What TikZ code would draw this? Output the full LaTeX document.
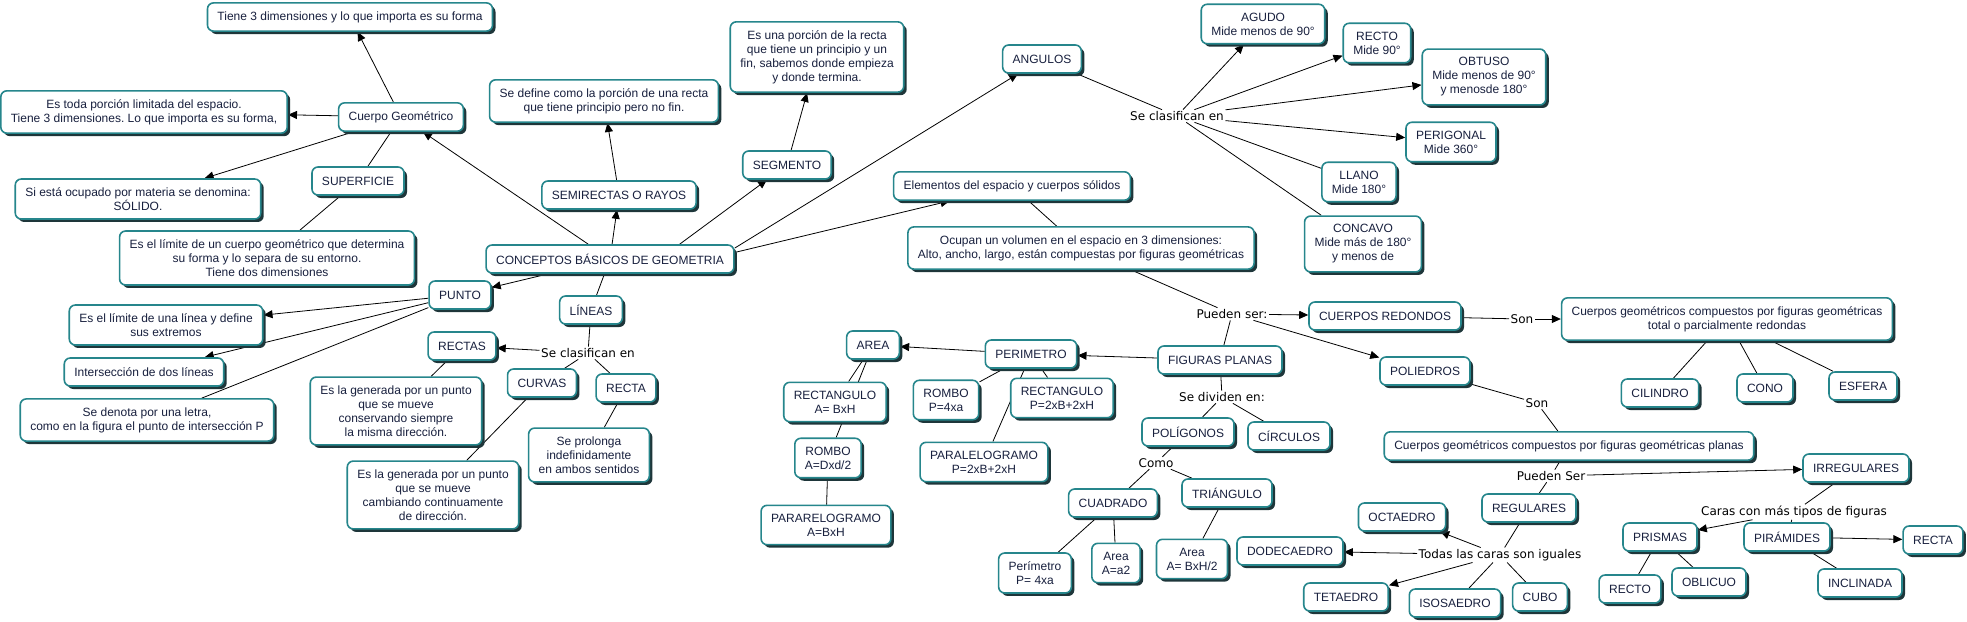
\documentclass[tikz,border=0pt]{standalone}
\usepackage{fontspec}
\setmainfont{Liberation Sans}
\newfontfamily\linkfont{DejaVu Sans}
\usetikzlibrary{arrows.meta}
\usetikzlibrary{shadows}
\usetikzlibrary{backgrounds}
\definecolor{Teal}{RGB}{38,134,140}
\definecolor{Shade}{RGB}{30,54,58}
\definecolor{Ink}{RGB}{24,32,62}
\frenchspacing

\tikzset{
  concept/.style={draw=Teal, line width=1.6pt, fill=white, rounded corners=6pt,
    align=center, inner xsep=10pt, inner ysep=8.5pt, minimum height=28pt,
    text=Ink, font=\fontsize{12}{14}\selectfont,
    drop shadow={shadow xshift=3pt, shadow yshift=-3pt, fill=Shade, opacity=1}},
  link/.style={inner sep=1.5pt, font=\linkfont\fontsize{12}{14}\selectfont},
  conn/.style={line width=0.8pt, black},
}

\begin{document}
\begin{tikzpicture}[x=1pt, y=-1pt, >={Triangle[length=9pt,width=8pt]}]
  \useasboundingbox (0,0) rectangle (1967,621);

  % left part
  \node[concept] at (350,17) (tres) {Tiene 3 dimensiones y lo que importa es su forma};
  \node[concept] at (144,112) (toda) {Es toda porción limitada del espacio.\\Tiene 3 dimensiones. Lo que importa es su forma,};
  \node[concept] at (401,117) (cuerpo) {Cuerpo Geométrico};
  \node[concept] at (138,199) (solido) {Si está ocupado por materia se denomina:\\SÓLIDO.};
  \node[concept] at (358,181) (superf) {SUPERFICIE};
  \node[concept] at (267,258) (limcuerpo) {Es el límite de un cuerpo geométrico que determina\\su forma y lo separa de su entorno.\\Tiene dos dimensiones};
  \node[concept] at (604,101) (semidef) {Se define como la porción de una recta\\que tiene principio pero no fin.};
  \node[concept] at (817,57) (segdef) {Es una porción de la recta\\que tiene un principio y un\\fin, sabemos donde empieza\\y donde termina.};
  \node[concept] at (787,165) (segmento) {SEGMENTO};
  \node[concept] at (619,195) (semi) {SEMIRECTAS O RAYOS};
  \node[concept] at (610,259) (conceptos) {CONCEPTOS BÁSICOS DE GEOMETRIA};
  \node[concept] at (460,295) (punto) {PUNTO};
  \node[concept] at (166,325) (limlinea) {Es el límite de una línea y define\\sus extremos};
  \node[concept] at (144,372) (inter) {Intersección de dos líneas};
  \node[concept] at (147,420) (denota) {Se denota por una letra,\\como en la figura el punto de intersección P};
  \node[concept] at (591,310) (lineas) {LÍNEAS};
  \node[link] at (588,353) (clasl) {Se clasifican en};
  \node[concept] at (462,346) (rectas) {RECTAS};
  \node[concept] at (542,383) (curvas) {CURVAS};
  \node[concept] at (626,388) (recta) {RECTA};
  \node[concept] at (396,411) (conserv) {Es la generada por un punto\\que se mueve\\conservando siempre\\la misma dirección.};
  \node[concept] at (433,495) (cambia) {Es la generada por un punto\\que se mueve\\cambiando continuamente\\de dirección.};
  \node[concept] at (589,455) (prolonga) {Se prolonga\\indefinidamente\\en ambos sentidos};

  % angulos
  \node[concept] at (1042,59) (angulos) {ANGULOS};
  \node[link] at (1177,116) (clasa) {Se clasifican en};
  \node[concept] at (1263,24) (agudo) {AGUDO\\Mide menos de 90°};
  \node[concept] at (1377,43) (rectoang) {RECTO\\Mide 90°};
  \node[concept] at (1484,77) (obtuso) {OBTUSO\\Mide menos de 90°\\y menosde 180°};
  \node[concept] at (1451,142) (perigonal) {PERIGONAL\\Mide 360°};
  \node[concept] at (1359,182) (llano) {LLANO\\Mide 180°};
  \node[concept] at (1363,244) (concavo) {CONCAVO\\Mide más de 180°\\y menos de};

  % figuras planas
  \node[concept] at (1012,186) (elementos) {Elementos del espacio y cuerpos sólidos};
  \node[concept] at (1081,248) (ocupan) {Ocupan un volumen en el espacio en 3 dimensiones:\\Alto, ancho, largo, están compuestas por figuras geométricas};
  \node[link] at (1232,314) (pueden) {Pueden ser:};
  \node[concept] at (1220,360) (figuras) {FIGURAS PLANAS};
  \node[concept] at (1031,354) (perimetro) {PERIMETRO};
  \node[concept] at (873,345) (area) {AREA};
  \node[concept] at (946,400) (rombop) {ROMBO\\P=4xa};
  \node[concept] at (1062,398) (rectp) {RECTANGULO\\P=2xB+2xH};
  \node[concept] at (984,462) (paralp) {PARALELOGRAMO\\P=2xB+2xH};
  \node[concept] at (835,402) (rectaa) {RECTANGULO\\A= BxH};
  \node[concept] at (828,458) (romboa) {ROMBO\\A=Dxd/2};
  \node[concept] at (826,525) (parala) {PARARELOGRAMO\\A=BxH};
  \node[link] at (1222,397) (dividen) {Se dividen en:};
  \node[concept] at (1188,432) (poligonos) {POLÍGONOS};
  \node[concept] at (1289,436) (circulos) {CÍRCULOS};
  \node[link] at (1156,463) (como) {Como};
  \node[concept] at (1113,503) (cuadrado) {CUADRADO};
  \node[concept] at (1227,493) (triangulo) {TRIÁNGULO};
  \node[concept] at (1035,573) (perim) {Perímetro\\P= 4xa};
  \node[concept] at (1116,563) (areacuad) {Area\\A=a2};
  \node[concept] at (1192,559) (areatri) {Area\\A= BxH/2};

  % cuerpos
  \node[concept] at (1385,316) (redondos) {CUERPOS REDONDOS};
  \node[link] at (1522,319) (son1) {Son};
  \node[concept] at (1727,319) (redondas) {Cuerpos geométricos compuestos por figuras geométricas\\total o parcialmente redondas};
  \node[concept] at (1660,393) (cilindro) {CILINDRO};
  \node[concept] at (1765,388) (cono) {CONO};
  \node[concept] at (1863,386) (esfera) {ESFERA};
  \node[concept] at (1425,371) (poliedros) {POLIEDROS};
  \node[link] at (1537,403) (son2) {Son};
  \node[concept] at (1569,446) (planas) {Cuerpos geométricos compuestos por figuras geométricas planas};
  \node[link] at (1551,476) (puedenser) {Pueden Ser};
  \node[concept] at (1856,468) (irregulares) {IRREGULARES};
  \node[concept] at (1529,508) (regulares) {REGULARES};
  \node[link] at (1500,555) (todas) {Todas las caras son iguales};
  \node[concept] at (1402,517) (octaedro) {OCTAEDRO};
  \node[concept] at (1290,551) (dodecaedro) {DODECAEDRO};
  \node[concept] at (1346,597) (tetaedro) {TETAEDRO};
  \node[concept] at (1455,603) (isosaedro) {ISOSAEDRO};
  \node[concept] at (1540,597) (cubo) {CUBO};
  \node[link] at (1794,512) (caras) {Caras con más tipos de figuras};
  \node[concept] at (1660,537) (prismas) {PRISMAS};
  \node[concept] at (1787,537) (piramides) {PIRÁMIDES};
  \node[concept] at (1933,540) (rectapir) {RECTA};
  \node[concept] at (1630,589) (rectopr) {RECTO};
  \node[concept] at (1709,582) (oblicuo) {OBLICUO};
  \node[concept] at (1860,583) (inclinada) {INCLINADA};

  \begin{scope}[on background layer]
    \foreach \a/\b in {conceptos/cuerpo, cuerpo/tres, cuerpo/toda, cuerpo/solido,
        conceptos/semi, semi/semidef, conceptos.12/segmento, segmento/segdef,
        conceptos.5/angulos, conceptos.3/elementos, conceptos/punto, punto/limlinea,
        punto/inter, clasl/rectas, clasa/agudo, clasa/rectoang, clasa/obtuso,
        clasa/perigonal, pueden/redondos, pueden/poliedros, son1/redondas,
        figuras/perimetro, perimetro/area, puedenser/irregulares, todas/octaedro,
        todas/dodecaedro, todas/tetaedro, caras/prismas, piramides/rectapir}
      \draw[conn, ->] (\a) -- (\b);
    \foreach \a/\b in {cuerpo/superf, superf/limcuerpo, punto/denota, conceptos/lineas,
        lineas/clasl, clasl/curvas, clasl/recta, rectas/conserv, curvas/cambia,
        recta/prolonga, angulos/clasa, clasa/llano, clasa/concavo, elementos/ocupan,
        ocupan/pueden, pueden/figuras, redondos/son1, redondas/cilindro, redondas/cono,
        redondas/esfera, poliedros/son2, son2/planas, planas/puedenser,
        puedenser/regulares, regulares/todas, todas/isosaedro, todas/cubo,
        irregulares/caras, caras/piramides, prismas/rectopr, prismas/oblicuo,
        piramides/inclinada, figuras/dividen, dividen/poligonos, dividen/circulos,
        poligonos/como, como/cuadrado, como/triangulo, cuadrado/perim,
        cuadrado/areacuad, triangulo/areatri, perimetro/rombop, perimetro/rectp,
        perimetro/paralp, area/rectaa, area/romboa, romboa/parala}
      \draw[conn] (\a) -- (\b);
  \end{scope}
\end{tikzpicture}
\end{document}
